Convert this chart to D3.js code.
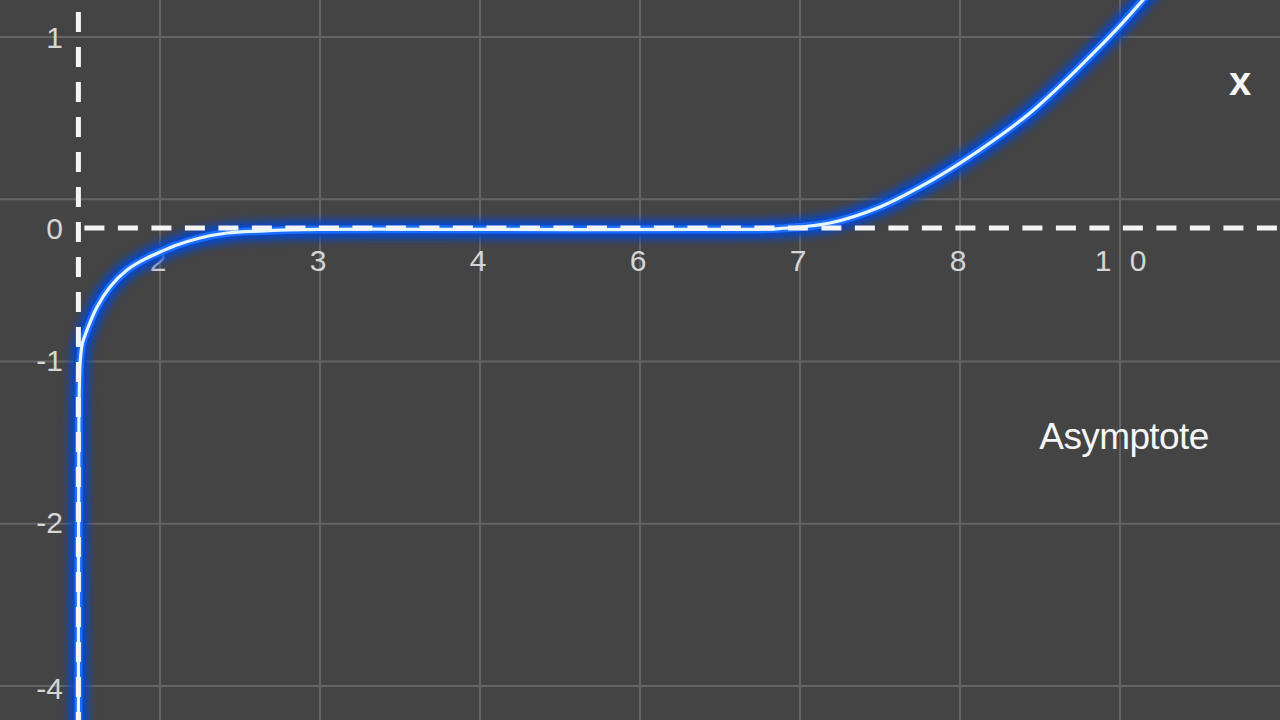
<!DOCTYPE html>
<html>
<head>
<meta charset="utf-8">
<script src="https://cdn.jsdelivr.net/npm/d3@7"></script>
<style>
  html, body { margin: 0; padding: 0; background: #444; overflow: hidden; }
  svg { display: block; }
  .tick-label { font-family: "Liberation Sans", Arial, sans-serif; fill: #d6d6d6; }
</style>
</head>
<body>
<div id="chart"></div>
<script>
// ticks
const xTicks = [2, 3, 4, 5, 6, 7, 8];
const xTickLabels = ['2', '3', '4', '6', '7', '8', '1 0'];
const yTicks = [1, 0, -1, -2, -4];
const yTickLabels = ['1', '0', '-1', '-2', '-4'];

// asymptotes
const asymptoteX = 1.49;
const asymptoteY = 0;

// curve
const curveX = [1.490, 1.4906, 1.4925, 1.4956, 1.5019, 1.5156, 1.5438, 1.6063, 1.6875,
  1.7938, 1.9188, 2.0, 2.1063, 2.25, 2.4188, 2.625, 3.0, 4.125, 5.375, 5.875, 6.1875,
  6.5, 6.75, 7.0, 7.2313, 7.4375, 7.6438, 7.8563, 8.0, 8.1438, 8.2188];
const curveY = [-4.446, -2.458, -1.494, -1.185, -1.0, -0.871, -0.773, -0.598, -0.447,
  -0.318, -0.227, -0.182, -0.129, -0.076, -0.038, -0.023, -0.011, -0.011, -0.011,
  -0.004, 0.026, 0.110, 0.215, 0.340, 0.471, 0.602, 0.759, 0.935, 1.060, 1.194, 1.267];

const W = 1280, H = 720;

const svg = d3.select('#chart').append('svg')
  .attr('width', W).attr('height', H)
  .attr('role', 'img')
  .attr('aria-label', 'Curve with vertical and horizontal asymptotes');

svg.append('rect').attr('width', W).attr('height', H).attr('fill', '#444');

const defs = svg.append('defs');
const glow = defs.append('filter').attr('id', 'glow')
  .attr('filterUnits', 'userSpaceOnUse')
  .attr('x', 0).attr('y', 0).attr('width', W).attr('height', H);
glow.append('feGaussianBlur').attr('stdDeviation', 5);

// scales
const x = d3.scaleLinear().domain([1, 9]).range([0, W]);
// y axis is not evenly spaced in the picture -> polylinear scale
const y = d3.scaleLinear().domain([1, 0, -1, -2, -4]).range([37, 228, 360, 522, 688]);
// horizontal grid rows are evenly spaced
const rows = d3.scaleLinear().domain([0, 4]).range([37, 686]);

// grid
const grid = svg.append('g').attr('class', 'grid')
  .attr('stroke', '#646464').attr('stroke-width', 2);
grid.selectAll('line.v').data(xTicks).join('line')
  .attr('class', 'v')
  .attr('x1', d => x(d)).attr('x2', d => x(d))
  .attr('y1', 0).attr('y2', H);
grid.selectAll('line.h').data(d3.range(5)).join('line')
  .attr('class', 'h')
  .attr('x1', 0).attr('x2', W)
  .attr('y1', d => rows(d)).attr('y2', d => rows(d));

// tick labels
svg.append('g').selectAll('text').data(xTicks).join('text')
  .attr('class', 'tick-label')
  .attr('x', (d, i) => x(d) - 2 + (i === xTicks.length - 1 ? 5 : 0))
  .attr('y', 271)
  .attr('text-anchor', 'middle')
  .attr('font-size', 30)
  .attr('letter-spacing', (d, i) => i === xTicks.length - 1 ? 5 : 0)
  .text((d, i) => xTickLabels[i]);

svg.append('g').selectAll('text').data(yTicks).join('text')
  .attr('class', 'tick-label')
  .attr('x', 63)
  .attr('y', d => y(d) + 11)
  .attr('text-anchor', 'end')
  .attr('font-size', 30)
  .text((d, i) => yTickLabels[i]);

// curve
const pts = curveX.map((v, i) => [v, curveY[i]]);
const line = d3.line()
  .x(d => x(d[0]))
  .y(d => y(d[1]))
  .curve(d3.curveCatmullRom.alpha(0.5));

const curveG = svg.append('g').attr('fill', 'none')
  .attr('stroke-linecap', 'round').attr('stroke-linejoin', 'round');
curveG.append('path').datum(pts).attr('d', line)
  .attr('stroke', '#0046d6').attr('stroke-width', 18)
  .attr('filter', 'url(#glow)');
curveG.append('path').datum(pts).attr('d', line)
  .attr('stroke', '#1b6dff').attr('stroke-width', 8);
curveG.append('path').datum(pts).attr('d', line)
  .attr('stroke', '#e6f6ff').attr('stroke-width', 3.2);

// asymptotes (dashed, on top of the curve)
svg.append('line')
  .attr('x1', x(asymptoteX)).attr('x2', x(asymptoteX))
  .attr('y1', 12).attr('y2', H)
  .attr('stroke', '#f4f4f4').attr('stroke-width', 5)
  .attr('stroke-dasharray', '20,15');
svg.append('line')
  .attr('x1', x(asymptoteX) + 6).attr('x2', W)
  .attr('y1', y(asymptoteY)).attr('y2', y(asymptoteY))
  .attr('stroke', '#f4f4f4').attr('stroke-width', 5)
  .attr('stroke-dasharray', '20,13.5');

// annotations
svg.append('text')
  .attr('x', 1124).attr('y', 449)
  .attr('text-anchor', 'middle')
  .attr('font-family', '"Liberation Sans", Arial, sans-serif')
  .attr('font-size', 37)
  .attr('letter-spacing', -0.6)
  .attr('fill', '#f6f6f6')
  .text('Asymptote');

svg.append('text')
  .attr('x', 1240).attr('y', 95)
  .attr('text-anchor', 'middle')
  .attr('font-family', '"Liberation Sans", Arial, sans-serif')
  .attr('font-size', 40)
  .attr('font-weight', 'bold')
  .attr('fill', '#f6f6f6')
  .text('x');
</script>
</body>
</html>
